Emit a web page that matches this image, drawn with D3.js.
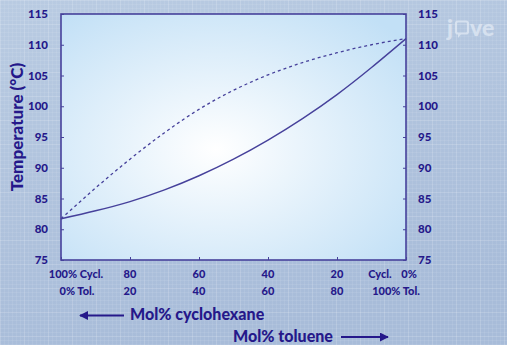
<!DOCTYPE html>
<html>
<head>
<meta charset="utf-8">
<script src="https://cdn.jsdelivr.net/npm/d3@7/dist/d3.min.js"></script>
<style>
  html, body { margin: 0; padding: 0; background: #adc0da; }
  svg { display: block; }
</style>
</head>
<body>
<svg id="chart" width="507" height="345"></svg>
<script>
// Mole fraction of toluene (%) along the x axis
const tolueneMolPct = [0, 10, 20, 30, 40, 50, 60, 70, 80, 90, 100];
// Liquid (bubble point) curve, °C
const liquidTemp = [81.7, 83.0, 84.5, 86.4, 88.7, 91.4, 94.5, 98.0, 101.9, 106.3, 111.0];
// Vapour (dew point) curve, °C
const vaporTemp = [81.7, 86.7, 91.4, 95.7, 99.5, 102.6, 105.1, 107.1, 108.7, 110.0, 111.0];
// Tick labels
const yTicks = [75, 80, 85, 90, 95, 100, 105, 110, 115];
const xTicks = [0, 20, 40, 60, 80, 100];
const cyclLabels = ["100% Cycl.", "80", "60", "40", "20", "Cycl."];
const tolLabels = ["0% Tol.", "20", "40", "60", "80", "100% Tol."];

const W = 507, H = 345;
const m = { left: 61, right: 406, top: 14, bottom: 260 };
const navy = "#25188a";
const lineCol = "#46419b";
const font = "Lato, 'Open Sans', sans-serif";

const svg = d3.select("#chart");
const defs = svg.append("defs");

// Page background with a faint graph-paper grid
const bgGrad = defs.append("linearGradient").attr("id", "bgGrad")
  .attr("x1", 0).attr("y1", 0).attr("x2", 0.3).attr("y2", 1);
bgGrad.append("stop").attr("offset", "0%").attr("stop-color", "#b9cbe2");
bgGrad.append("stop").attr("offset", "100%").attr("stop-color", "#a8bcd9");

const grid = defs.append("pattern").attr("id", "grid")
  .attr("width", 24).attr("height", 24).attr("patternUnits", "userSpaceOnUse");
for (let i = 0; i < 24; i += 4) {
  grid.append("line").attr("x1", i + 0.5).attr("x2", i + 0.5).attr("y1", 0).attr("y2", 24)
    .attr("stroke", "#ffffff").attr("stroke-opacity", i === 0 ? 0.16 : 0.07).attr("stroke-width", 1);
  grid.append("line").attr("y1", i + 0.5).attr("y2", i + 0.5).attr("x1", 0).attr("x2", 24)
    .attr("stroke", "#ffffff").attr("stroke-opacity", i === 0 ? 0.16 : 0.07).attr("stroke-width", 1);
}

svg.append("rect").attr("width", W).attr("height", H).attr("fill", "url(#bgGrad)");
svg.append("rect").attr("width", W).attr("height", H).attr("fill", "url(#grid)");

// Plot panel: soft radial glow
const panelGrad = defs.append("radialGradient").attr("id", "panelGrad")
  .attr("cx", "45%").attr("cy", "55%").attr("r", "70%");
panelGrad.append("stop").attr("offset", "0%").attr("stop-color", "#ffffff");
panelGrad.append("stop").attr("offset", "100%").attr("stop-color", "#c2e0f6");

const x = d3.scaleLinear().domain([0, 100]).range([m.left, m.right]);
const y = d3.scaleLinear().domain([75, 115]).range([m.bottom, m.top]);

svg.append("rect")
  .attr("x", m.left).attr("y", m.top)
  .attr("width", m.right - m.left).attr("height", m.bottom - m.top)
  .attr("fill", "url(#panelGrad)");

// Axes
const axisL = d3.axisLeft(y).tickValues(yTicks).tickSize(-3).tickPadding(13);
const axisR = d3.axisRight(y).tickValues(yTicks).tickSize(-3).tickPadding(12);
const axisB = d3.axisBottom(x).tickValues(xTicks).tickSize(-3).tickFormat("");

function styleAxis(g) {
  g.select(".domain").remove();
  g.selectAll(".tick line").attr("stroke", lineCol).attr("stroke-width", 1);
  g.selectAll(".tick text").attr("fill", navy).attr("font-family", font)
    .attr("font-weight", 900).attr("font-size", 11.5);
}
svg.append("g").attr("transform", `translate(${m.left},0)`).call(axisL).call(styleAxis)
  .selectAll(".tick text").attr("text-anchor", "end");
svg.append("g").attr("transform", `translate(${m.right},0)`).call(axisR).call(styleAxis);
svg.append("g").attr("transform", `translate(0,${m.bottom})`).call(axisB).call(styleAxis);

// Frame
svg.append("rect")
  .attr("x", m.left).attr("y", m.top)
  .attr("width", m.right - m.left).attr("height", m.bottom - m.top)
  .attr("fill", "none").attr("stroke", lineCol).attr("stroke-width", 1.6);

// Curves
const line = d3.line().curve(d3.curveNatural);
const liquidPts = tolueneMolPct.map((t, i) => [x(t), y(liquidTemp[i])]);
const vaporPts = tolueneMolPct.map((t, i) => [x(t), y(vaporTemp[i])]);

svg.append("path").attr("d", line(vaporPts))
  .attr("fill", "none").attr("stroke", lineCol).attr("stroke-width", 1.3)
  .attr("stroke-dasharray", "3,3");
svg.append("path").attr("d", line(liquidPts))
  .attr("fill", "none").attr("stroke", lineCol).attr("stroke-width", 1.4);

// Composition labels under the x axis
const labelOffsets = [15, 0, 0, 0, 0, -26];
const tolOffsets = [16, 0, 0, 0, 0, -10];
const labelStyle = sel => sel.attr("text-anchor", "middle").attr("fill", navy)
  .attr("font-family", font).attr("font-weight", 900).attr("font-size", 11);
xTicks.forEach((t, i) => {
  svg.append("text").attr("x", x(t) + labelOffsets[i]).attr("y", 278)
    .call(labelStyle).text(cyclLabels[i]);
  svg.append("text").attr("x", x(t) + tolOffsets[i]).attr("y", 295)
    .call(labelStyle).text(tolLabels[i]);
});
svg.append("text").attr("x", x(100) + 3).attr("y", 278).call(labelStyle).text("0%");

// Y axis title
svg.append("text")
  .attr("transform", "translate(23,127) rotate(-90)")
  .attr("text-anchor", "middle")
  .attr("fill", navy).attr("font-family", font).attr("font-weight", 900).attr("font-size", 17)
  .text("Temperature (°C)");

// Direction captions with arrows
defs.append("marker").attr("id", "arrowHead")
  .attr("viewBox", "0 0 10 10").attr("refX", 9).attr("refY", 5)
  .attr("markerWidth", 4.5).attr("markerHeight", 4.5).attr("orient", "auto-start-reverse")
  .append("path").attr("d", "M0,0 L10,5 L0,10 Z").attr("fill", navy);

svg.append("line").attr("x1", 124).attr("x2", 80).attr("y1", 315.5).attr("y2", 315.5)
  .attr("stroke", navy).attr("stroke-width", 2).attr("marker-end", "url(#arrowHead)");
svg.append("text")
  .attr("x", 130).attr("y", 320)
  .attr("fill", navy).attr("font-family", font).attr("font-weight", 900).attr("font-size", 16)
  .text("Mol% cyclohexane");

svg.append("text")
  .attr("x", 233).attr("y", 342)
  .attr("fill", navy).attr("font-family", font).attr("font-weight", 900).attr("font-size", 16)
  .text("Mol% toluene");
svg.append("line").attr("x1", 341).attr("x2", 388).attr("y1", 337).attr("y2", 337)
  .attr("stroke", navy).attr("stroke-width", 2).attr("marker-end", "url(#arrowHead)");

// Watermark
const wm = svg.append("g").attr("opacity", 0.7);
wm.append("text").attr("x", 447).attr("y", 36)
  .attr("fill", "#e4ecf6").attr("font-family", font).attr("font-weight", 900).attr("font-size", 23)
  .text("j");
wm.append("rect").attr("x", 456).attr("y", 21.5).attr("width", 12).attr("height", 12).attr("rx", 2)
  .attr("fill", "none").attr("stroke", "#e4ecf6").attr("stroke-width", 2.2);
wm.append("path").attr("d", "M458,33 L458,38 L462,33 Z").attr("fill", "#e4ecf6");
wm.append("text").attr("x", 470).attr("y", 36)
  .attr("fill", "#e4ecf6").attr("font-family", font).attr("font-weight", 900).attr("font-size", 23)
  .text("ve");
</script>
</body>
</html>
